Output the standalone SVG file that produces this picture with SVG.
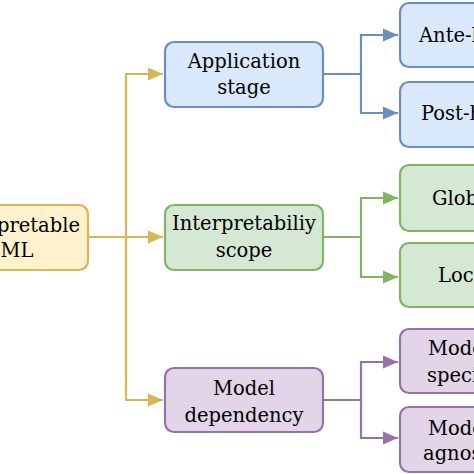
<svg xmlns="http://www.w3.org/2000/svg" width="474" height="474" viewBox="0 0 474 474">
<style>
text{font-family:"DejaVu Serif","Liberation Serif",serif;font-size:19.5px;fill:#000;text-anchor:middle}
text.s{text-anchor:start}
.y{fill:#fff2cc;stroke:#d6b656;stroke-width:2.2}
.b{fill:#dae8fc;stroke:#6c8ebf;stroke-width:2.2}
.g{fill:#d5e8d4;stroke:#82b366;stroke-width:2.2}
.p{fill:#e1d5e7;stroke:#9673a6;stroke-width:2.2}
.cy{fill:none;stroke:#d6b656;stroke-width:2.2}
.cb{fill:none;stroke:#6c8ebf;stroke-width:2.2}
.cg{fill:none;stroke:#82b366;stroke-width:2.2}
.cp{fill:none;stroke:#9673a6;stroke-width:2.2}
</style>
<defs>
<marker id="ay" markerWidth="8" markerHeight="6" refX="7" refY="3" orient="auto" markerUnits="strokeWidth"><path d="M0,0L7,3L0,6z" fill="#d6b656"/></marker>
<marker id="ab" markerWidth="8" markerHeight="6" refX="7" refY="3" orient="auto" markerUnits="strokeWidth"><path d="M0,0L7,3L0,6z" fill="#6c8ebf"/></marker>
<marker id="ag" markerWidth="8" markerHeight="6" refX="7" refY="3" orient="auto" markerUnits="strokeWidth"><path d="M0,0L7,3L0,6z" fill="#82b366"/></marker>
<marker id="ap" markerWidth="8" markerHeight="6" refX="7" refY="3" orient="auto" markerUnits="strokeWidth"><path d="M0,0L7,3L0,6z" fill="#9673a6"/></marker>
</defs>
<g id="connectors">
<path class="cy" d="M88,237H163" marker-end="url(#ay)"/>
<path class="cy" d="M126,237V74H163" marker-end="url(#ay)"/>
<path class="cy" d="M126,237V400H163" marker-end="url(#ay)"/>
<path class="cb" d="M323,74H361V35H398" marker-end="url(#ab)"/>
<path class="cb" d="M361,74V113H398" marker-end="url(#ab)"/>
<path class="cg" d="M323,237H361V198H398" marker-end="url(#ag)"/>
<path class="cg" d="M361,237V277H398" marker-end="url(#ag)"/>
<path class="cp" d="M323,400H361V362H398" marker-end="url(#ap)"/>
<path class="cp" d="M361,400V438H398" marker-end="url(#ap)"/>
</g>
<g id="root"><rect class="y" x="-60" y="205" width="148" height="65" rx="9"/><text x="14" y="232">Interpretable</text><text x="17" y="257">ML</text></g>
<g id="app"><rect class="b" x="165" y="42" width="158" height="65" rx="9"/><text x="244" y="68">Application</text><text x="244" y="94">stage</text></g>
<g id="scope"><rect class="g" x="165" y="205" width="158" height="65" rx="9"/><text x="244" y="230">Interpretabiliy</text><text x="244" y="257">scope</text></g>
<g id="dep"><rect class="p" x="165" y="368" width="158" height="64" rx="9"/><text x="244" y="395">Model</text><text x="244" y="422">dependency</text></g>
<g id="ante"><rect class="b" x="400" y="3" width="150" height="64" rx="9"/><text class="s" x="419" y="42">Ante-hoc</text></g>
<g id="post"><rect class="b" x="400" y="82" width="150" height="65" rx="9"/><text class="s" x="421" y="120">Post-hoc</text></g>
<g id="global"><rect class="g" x="400" y="165" width="150" height="66" rx="9"/><text class="s" x="432" y="205">Global</text></g>
<g id="local"><rect class="g" x="400" y="243" width="150" height="64" rx="9"/><text class="s" x="438" y="282">Local</text></g>
<g id="spec"><rect class="p" x="400" y="329" width="150" height="64" rx="9"/><text class="s" x="428" y="355">Model</text><text class="s" x="427" y="382">specific</text></g>
<g id="agn"><rect class="p" x="400" y="407" width="150" height="65" rx="9"/><text class="s" x="428" y="435">Model</text><text class="s" x="423" y="460">agnostic</text></g>
</svg>
